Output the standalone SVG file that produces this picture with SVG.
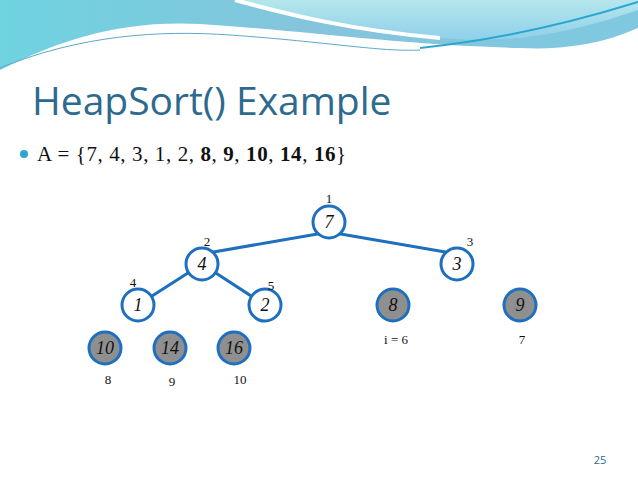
<svg xmlns="http://www.w3.org/2000/svg" width="638" height="478" viewBox="0 0 638 478">
<defs>
<linearGradient id="g1" x1="0" y1="0" x2="1" y2="0"><stop offset="0" stop-color="#6fd3e0"/><stop offset="0.5" stop-color="#85c4dc"/><stop offset="1" stop-color="#7fc9e0"/></linearGradient>
<linearGradient id="g2" x1="0" y1="0" x2="0" y2="1"><stop offset="0" stop-color="#b5e6ec"/><stop offset="1" stop-color="#8fd0ea"/></linearGradient>
<style>
.e{stroke:#1f6fbf;stroke-width:3;fill:none}
.w circle{fill:#fff;stroke:#1f6fbf;stroke-width:3}
.g circle{fill:#8f8f8f;stroke:#1f6fbf;stroke-width:3}
.v{font-family:"Liberation Serif",serif;font-style:italic;font-size:18px;text-anchor:middle;fill:#111}
.n{font-family:"Liberation Serif",serif;font-size:13px;text-anchor:middle;fill:#111}
</style>
</defs>
<rect width="638" height="478" fill="#fff"/>
<path d="M0,0 H638 V28 C600,45 560,50 520,48 C400,45 300,30 200,24 C120,20 60,40 0,70 Z" fill="url(#g1)"/>
<path d="M235,0 H638 V10 C580,30 520,45 440,38 C350,30 290,15 235,0 Z" fill="url(#g2)"/>
<path d="M235,0 C290,15 350,30 440,38" stroke="#fff" stroke-width="4" fill="none"/>
<path d="M0,68 C80,35 160,30 230,35 C330,42 380,52 420,50" stroke="#5aa9c9" stroke-width="1" fill="none"/>
<path d="M420,48 C500,40 580,20 638,2" stroke="#2aa6cf" stroke-width="2" fill="none"/>
<text x="32" y="115" font-family="Open Sans, Liberation Sans, sans-serif" font-size="39" fill="#2e6a8e">HeapSort() Example</text>
<circle cx="24" cy="154" r="4" fill="#2aa6cf"/>
<text x="37" y="161" font-family="Liberation Serif, serif" font-size="21" letter-spacing="0.6" fill="#111">A = {7, 4, 3, 1, 2, <tspan font-weight="bold">8</tspan>, <tspan font-weight="bold">9</tspan>, <tspan font-weight="bold">10</tspan>, <tspan font-weight="bold">14</tspan>, <tspan font-weight="bold">16</tspan>}</text>
<g id="edges">
<line class="e" x1="329" y1="232" x2="202" y2="254"/>
<line class="e" x1="329" y1="232" x2="457" y2="254"/>
<line class="e" x1="202" y1="264" x2="138" y2="305"/>
<line class="e" x1="202" y1="264" x2="265" y2="305"/>
</g>
<g id="n7" class="w"><circle cx="329" cy="222" r="16"/><text class="v" x="329" y="228">7</text></g>
<g id="n4" class="w"><circle cx="202" cy="264" r="16"/><text class="v" x="202" y="270">4</text></g>
<g id="n3" class="w"><circle cx="457" cy="264" r="16"/><text class="v" x="457" y="270">3</text></g>
<g id="n1" class="w"><circle cx="138" cy="305" r="16"/><text class="v" x="138" y="311">1</text></g>
<g id="n2" class="w"><circle cx="265" cy="305" r="16"/><text class="v" x="265" y="311">2</text></g>
<g id="n8" class="g"><circle cx="393" cy="305" r="16"/><text class="v" x="393" y="311">8</text></g>
<g id="n9" class="g"><circle cx="520" cy="305" r="16"/><text class="v" x="520" y="311">9</text></g>
<g id="n10" class="g"><circle cx="105" cy="348" r="16"/><text class="v" x="105" y="354">10</text></g>
<g id="n14" class="g"><circle cx="170" cy="348" r="16"/><text class="v" x="170" y="354">14</text></g>
<g id="n16" class="g"><circle cx="234" cy="348" r="16"/><text class="v" x="234" y="354">16</text></g>
<g id="labels">
<text class="n" x="329" y="203">1</text>
<text class="n" x="207" y="246">2</text>
<text class="n" x="470" y="246">3</text>
<text class="n" x="133" y="287">4</text>
<text class="n" x="271" y="290">5</text>
<text class="n" x="396" y="344">i = 6</text>
<text class="n" x="522" y="344">7</text>
<text class="n" x="108" y="384">8</text>
<text class="n" x="172" y="386">9</text>
<text class="n" x="240" y="384">10</text>
</g>
<text x="600" y="464" font-family="Open Sans, Liberation Sans, sans-serif" font-size="11" text-anchor="middle" fill="#2e6a8e">25</text>
</svg>
